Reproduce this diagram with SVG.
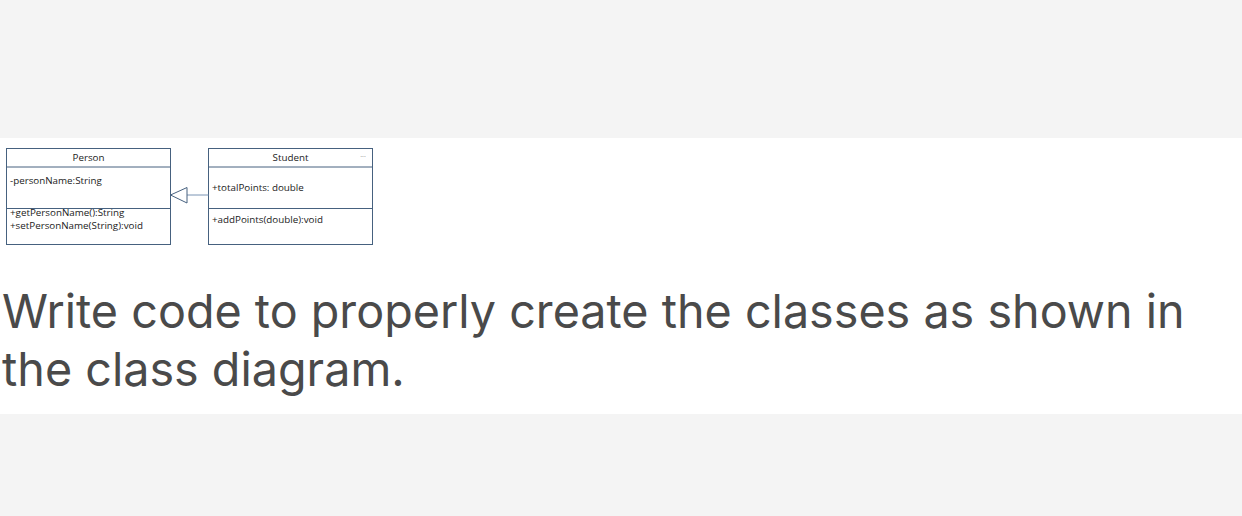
<svg xmlns="http://www.w3.org/2000/svg" width="1242" height="516" viewBox="0 0 1242 516">
<style>
.box{fill:#ffffff;stroke:#46617f;stroke-width:1}
.ln{stroke:#46617f;stroke-width:1;fill:none}
.t{font-family:"Open Sans","Liberation Sans",sans-serif;font-size:9.8px;fill:#1a1a1a}
.big{font-family:Inter,"Open Sans",sans-serif;font-size:46.7px;fill:#4a4a4a}
</style>
<rect x="0" y="0" width="1242" height="516" fill="#f4f4f4"/>
<rect x="0" y="138" width="1242" height="276" fill="#ffffff"/>
<g id="person">
<rect class="box" x="6.5" y="148.5" width="164" height="96"/>
<line class="ln" x1="6.5" y1="167" x2="170.5" y2="167"/>
<line class="ln" x1="6.5" y1="208.5" x2="170.5" y2="208.5"/>
<text class="t" x="88.5" y="161" text-anchor="middle">Person</text>
<text class="t" x="10" y="184">-personName:String</text>
<text class="t" x="10" y="216">+getPersonName():String</text>
<text class="t" x="10" y="229">+setPersonName(String):void</text>
</g>
<g id="student">
<rect class="box" x="208.5" y="148.5" width="164" height="96"/>
<line class="ln" x1="208.5" y1="167" x2="372.5" y2="167"/>
<line class="ln" x1="208.5" y1="208.5" x2="372.5" y2="208.5"/>
<text class="t" x="290.5" y="161" text-anchor="middle">Student</text>
<text class="t" x="363" y="159" text-anchor="middle" style="font-size:7px;fill:#777">···</text>
<text class="t" x="212" y="191">+totalPoints: double</text>
<text class="t" x="212" y="223">+addPoints(double):void</text>
</g>
<g id="connectors">
<line class="ln" x1="187" y1="195" x2="208.5" y2="195" style="stroke:#7a94b4"/>
<polygon class="ln" points="170.5,195 187,187.5 187,203"/>
</g>
<text class="big" x="2" y="328">Write code to properly create the classes as shown in</text>
<text class="big" x="2" y="386">the class diagram.</text>
</svg>
